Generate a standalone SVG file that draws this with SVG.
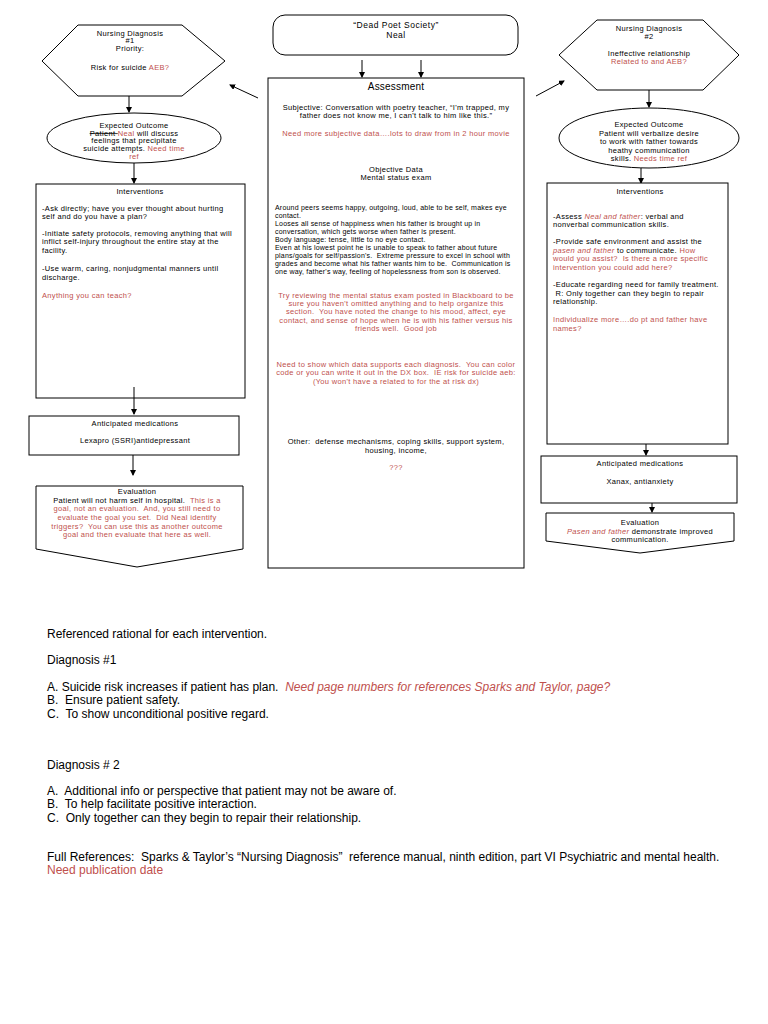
<svg xmlns="http://www.w3.org/2000/svg" width="768" height="1024" viewBox="0 0 768 1024" xml:space="preserve">
<style>
  text{white-space:pre}
  .s{font-family:"Liberation Sans",Arial,sans-serif;font-size:7.5px;fill:#000;letter-spacing:0.33px}
  .o{font-size:7px;letter-spacing:0.2px}
  .c{text-anchor:middle}
  .b{font-family:"Liberation Sans",Arial,sans-serif;font-size:12px;fill:#000}
  .r, text.r, tspan.r{fill:#c0504d}
  .i{font-style:italic}
  .shape{fill:#fff;stroke:#000;stroke-width:1}
  .ln{stroke:#000;stroke-width:1;fill:none}
</style>
<defs>
  <marker id="ah" markerWidth="6" markerHeight="6" refX="5" refY="3" orient="auto" markerUnits="userSpaceOnUse">
    <path d="M0,0 L6,3 L0,6 z" fill="#000"/>
  </marker>
</defs>
<rect width="768" height="1024" fill="#fff"/>

<g id="connectors">
  <line class="ln" x1="129" y1="96" x2="129" y2="112" marker-end="url(#ah)"/>
  <line class="ln" x1="134" y1="163" x2="134" y2="183" marker-end="url(#ah)"/>
  <line class="ln" x1="134" y1="387" x2="134" y2="414" marker-end="url(#ah)"/>
  <line class="ln" x1="133" y1="449" x2="133" y2="475" marker-end="url(#ah)"/>
  <line class="ln" x1="362" y1="60" x2="362" y2="77" marker-end="url(#ah)"/>
  <line class="ln" x1="421" y1="60" x2="421" y2="77" marker-end="url(#ah)"/>
  <line class="ln" x1="258" y1="98" x2="230" y2="85" marker-end="url(#ah)"/>
  <line class="ln" x1="536" y1="96" x2="564" y2="81" marker-end="url(#ah)"/>
  <line class="ln" x1="649" y1="90" x2="649" y2="107" marker-end="url(#ah)"/>
  <line class="ln" x1="641" y1="167" x2="641" y2="183" marker-end="url(#ah)"/>
  <line class="ln" x1="646" y1="432" x2="646" y2="455" marker-end="url(#ah)"/>
  <line class="ln" x1="652" y1="498" x2="652" y2="512" marker-end="url(#ah)"/>
</g>

<g id="dx1">
  <polygon class="shape" points="78,25 182,25 225,61 182,96 78,96 42,61"/>
  <text class="s c" x="130" y="36">Nursing Diagnosis</text>
  <text class="s c" x="130" y="43">#1</text>
  <text class="s c" x="130" y="51">Priority:</text>
  <text class="s c" x="130" y="70">Risk for suicide <tspan class="r">AEB?</tspan></text>
</g>

<g id="outcome1">
  <ellipse class="shape" cx="134" cy="138" rx="87" ry="25"/>
  <text class="s c" x="134" y="128">Expected Outcome</text>
  <text class="s c" x="134" y="136"><tspan text-decoration="line-through">Patient </tspan><tspan class="r">Neal</tspan> will discuss</text>
  <text class="s c" x="134" y="143">feelings that precipitate</text>
  <text class="s c" x="134" y="151">suicide attempts. <tspan class="r">Need time</tspan></text>
  <text class="s c r" x="134" y="159">ref</text>
</g>

<g id="interventions1">
  <rect class="shape" x="36" y="184" width="209" height="214"/>
  <line class="ln" x1="134" y1="387" x2="134" y2="398"/>
  <text class="s c" x="140" y="194">Interventions</text>
  <text class="s" x="42" y="211">-Ask directly; have you ever thought about hurting</text>
  <text class="s" x="42" y="219">self and do you have a plan?</text>
  <text class="s" x="42" y="236">-Initiate safety protocols, removing anything that will</text>
  <text class="s" x="42" y="244">inflict self-injury throughout the entire stay at the</text>
  <text class="s" x="42" y="253">facility.</text>
  <text class="s" x="42" y="271">-Use warm, caring, nonjudgmental manners until</text>
  <text class="s" x="42" y="280">discharge.</text>
  <text class="s r" x="42" y="298">Anything you can teach?</text>
</g>

<g id="meds1">
  <rect class="shape" x="29" y="416" width="210" height="39"/>
  <text class="s c" x="135" y="426">Anticipated medications</text>
  <text class="s c" x="135" y="443">Lexapro (SSRI)antidepressant</text>
</g>

<g id="eval1">
  <polygon class="shape" points="36,486 243,486 243,549 137,567 36,549"/>
  <text class="s c" x="137" y="494">Evaluation</text>
  <text class="s c" x="137" y="503">Patient will not harm self in hospital.  <tspan class="r">This is a</tspan></text>
  <text class="s c r" x="137" y="511">goal, not an evaluation.  And, you still need to</text>
  <text class="s c r" x="137" y="520">evaluate the goal you set.  Did Neal identify</text>
  <text class="s c r" x="137" y="529">triggers?  You can use this as another outcome</text>
  <text class="s c r" x="137" y="537">goal and then evaluate that here as well.</text>
</g>

<g id="movie">
  <rect class="shape" x="273" y="15" width="245" height="40" rx="12" ry="12"/>
  <text class="s c" x="396" y="28" style="font-size:8.5px;letter-spacing:0.5px">“Dead Poet Society”</text>
  <text class="s c" x="396" y="38" style="font-size:8.5px;letter-spacing:0.5px">Neal</text>
</g>

<g id="assessment">
  <rect class="shape" x="268" y="78" width="256" height="490"/>
  <text class="s c" x="396" y="90" style="font-size:10px;letter-spacing:0.2px">Assessment</text>
  <text class="s c" x="396" y="110">Subjective: Conversation with poetry teacher, “I'm trapped, my</text>
  <text class="s c" x="396" y="118">father does not know me, I can't talk to him like this.”</text>
  <text class="s c r" x="396" y="136">Need more subjective data….lots to draw from in 2 hour movie</text>
  <text class="s c" x="396" y="172">Objective Data</text>
  <text class="s c" x="396" y="180">Mental status exam</text>
  <text class="s o" x="275" y="210">Around peers seems happy, outgoing, loud, able to be self, makes eye</text>
  <text class="s o" x="275" y="218">contact.</text>
  <text class="s o" x="275" y="226">Looses all sense of happiness when his father is brought up in</text>
  <text class="s o" x="275" y="234">conversation, which gets worse when father is present.</text>
  <text class="s o" x="275" y="242">Body language: tense, little to no eye contact.</text>
  <text class="s o" x="275" y="250">Even at his lowest point he is unable to speak to father about future</text>
  <text class="s o" x="275" y="258">plans/goals for self/passion's.  Extreme pressure to excel in school with</text>
  <text class="s o" x="275" y="266">grades and become what his father wants him to be.  Communication is</text>
  <text class="s o" x="275" y="274">one way, father's way, feeling of hopelessness from son is observed.</text>
  <text class="s c r" x="396" y="298">Try reviewing the mental status exam posted in Blackboard to be</text>
  <text class="s c r" x="396" y="306">sure you haven't omitted anything and to help organize this</text>
  <text class="s c r" x="396" y="314">section.  You have noted the change to his mood, affect, eye</text>
  <text class="s c r" x="396" y="323">contact, and sense of hope when he is with his father versus his</text>
  <text class="s c r" x="396" y="331">friends well.  Good job</text>
  <text class="s c r" x="396" y="367">Need to show which data supports each diagnosis.  You can color</text>
  <text class="s c r" x="396" y="375">code or you can write it out in the DX box.  IE risk for suicide aeb:</text>
  <text class="s c r" x="396" y="384">(You won't have a related to for the at risk dx)</text>
  <text class="s c" x="396" y="444">Other:  defense mechanisms, coping skills, support system,</text>
  <text class="s c" x="396" y="453">housing, income,</text>
  <text class="s c r" x="396" y="470">???</text>
</g>

<g id="dx2">
  <polygon class="shape" points="597,20 703,20 739,55 703,90 597,90 559,55"/>
  <text class="s c" x="649" y="31">Nursing Diagnosis</text>
  <text class="s c" x="649" y="39">#2</text>
  <text class="s c" x="649" y="56">Ineffective relationship</text>
  <text class="s c r" x="649" y="64">Related to and AEB?</text>
</g>

<g id="outcome2">
  <ellipse class="shape" cx="649" cy="138" rx="90" ry="30"/>
  <text class="s c" x="649" y="127">Expected Outcome</text>
  <text class="s c" x="649" y="136">Patient will verbalize desire</text>
  <text class="s c" x="649" y="144">to work with father towards</text>
  <text class="s c" x="649" y="153">heathy communication</text>
  <text class="s c" x="649" y="161">skills. <tspan class="r">Needs time ref</tspan></text>
</g>

<g id="interventions2">
  <rect class="shape" x="547" y="183" width="181" height="261"/>
  <text class="s c" x="640" y="194">Interventions</text>
  <text class="s" x="553" y="219">-Assess <tspan class="r i">Neal and father</tspan>: verbal and</text>
  <text class="s" x="553" y="227">nonverbal communication skills.</text>
  <text class="s" x="553" y="244">-Provide safe environment and assist the</text>
  <text class="s" x="553" y="253"><tspan class="r i">pasen and father</tspan> to communicate. <tspan class="r">How</tspan></text>
  <text class="s r" x="553" y="261">would you assist?  Is there a more specific</text>
  <text class="s r" x="553" y="270">intervention you could add here?</text>
  <text class="s" x="553" y="287">-Educate regarding need for family treatment.</text>
  <text class="s" x="553" y="296"> R: Only together can they begin to repair</text>
  <text class="s" x="553" y="304">relationship.</text>
  <text class="s r" x="553" y="322">Individualize more….do pt and father have</text>
  <text class="s r" x="553" y="331">names?</text>
</g>

<g id="meds2">
  <rect class="shape" x="541" y="456" width="196" height="47"/>
  <text class="s c" x="640" y="466">Anticipated medications</text>
  <text class="s c" x="640" y="484">Xanax, antianxiety</text>
</g>

<g id="eval2">
  <polygon class="shape" points="546,513 734,513 734,541 640,553 546,541"/>
  <text class="s c" x="640" y="525">Evaluation</text>
  <text class="s c" x="640" y="534"><tspan class="r i">Pasen and father</tspan> demonstrate improved</text>
  <text class="s c" x="640" y="542">communication.</text>
</g>

<g id="references">
  <text class="b" x="47" y="638">Referenced rational for each intervention.</text>
  <text class="b" x="47" y="664">Diagnosis #1</text>
  <text class="b" x="47" y="691">A. Suicide risk increases if patient has plan.  <tspan class="r i">Need page numbers for references Sparks and Taylor, page?</tspan></text>
  <text class="b" x="47" y="704">B.  Ensure patient safety.</text>
  <text class="b" x="47" y="718">C.  To show unconditional positive regard.</text>
  <text class="b" x="47" y="769">Diagnosis # 2</text>
  <text class="b" x="47" y="795">A.  Additional info or perspective that patient may not be aware of.</text>
  <text class="b" x="47" y="808">B.  To help facilitate positive interaction.</text>
  <text class="b" x="47" y="822">C.  Only together can they begin to repair their relationship.</text>
  <text class="b" x="47" y="861">Full References:  Sparks &amp; Taylor’s “Nursing Diagnosis”  reference manual, ninth edition, part VI Psychiatric and mental health.</text>
  <text class="b r" x="47" y="874">Need publication date</text>
</g>
</svg>
